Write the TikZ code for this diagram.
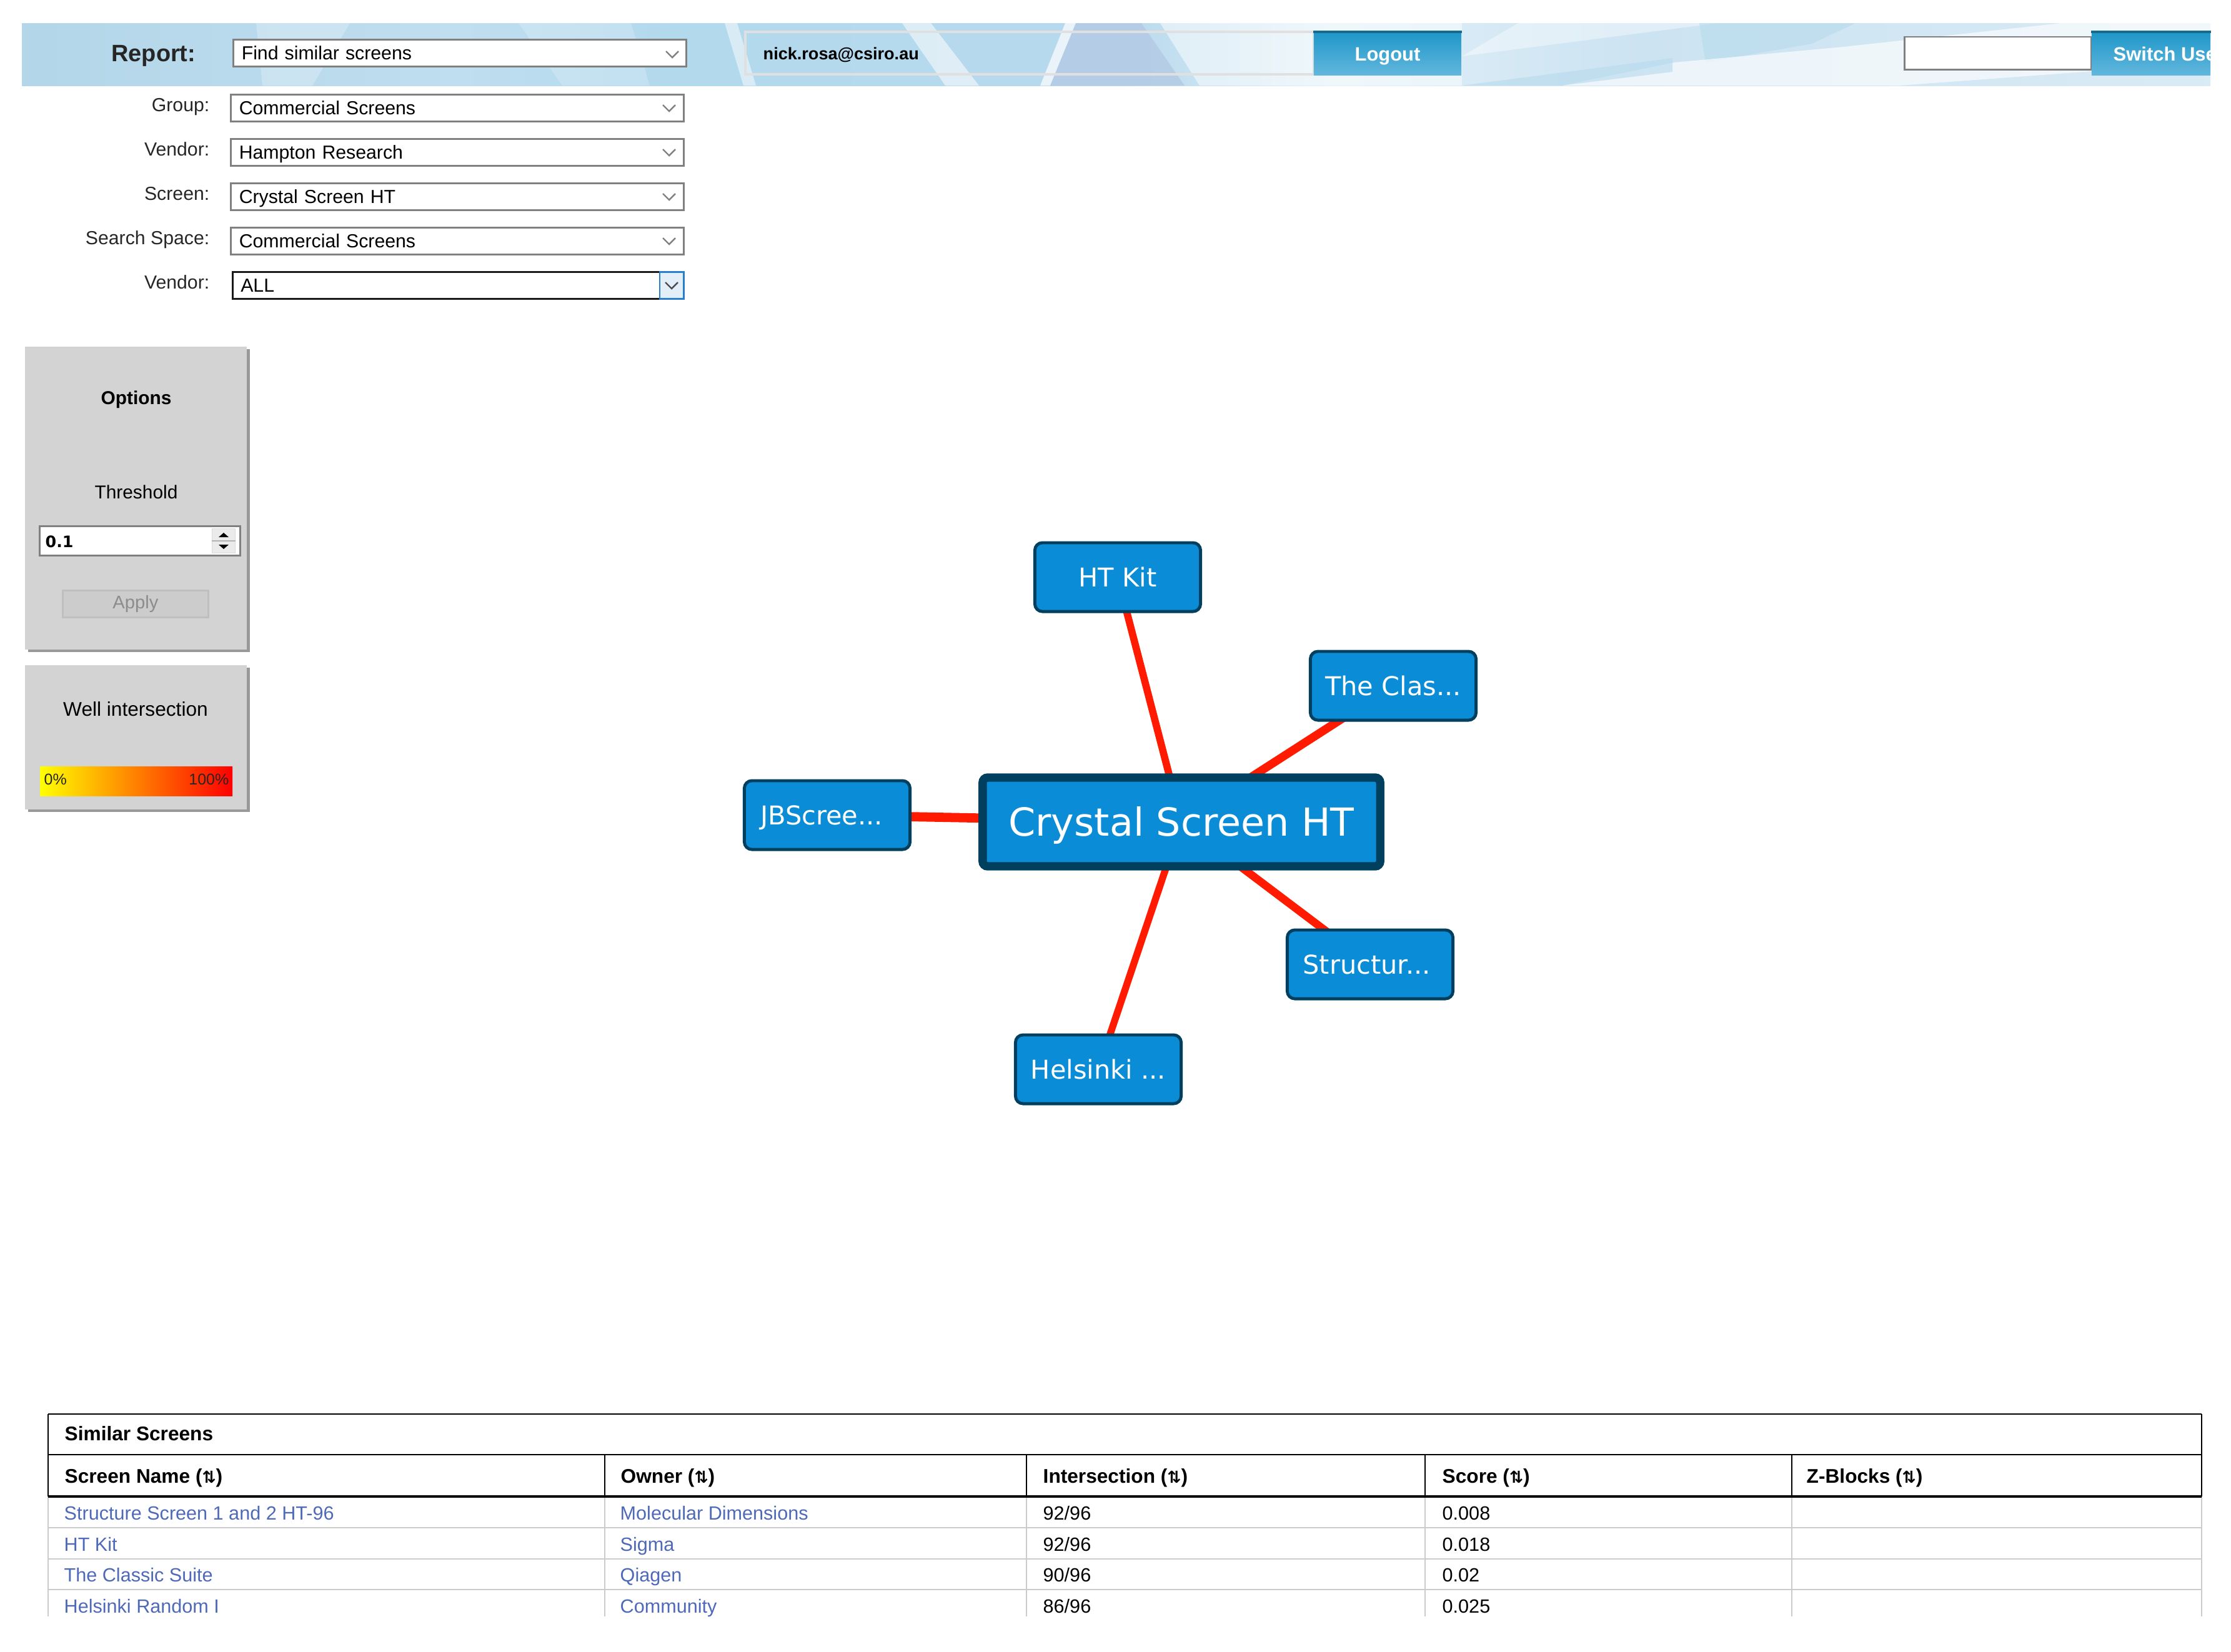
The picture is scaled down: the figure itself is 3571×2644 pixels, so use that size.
\documentclass[tikz,border=0pt]{standalone}
\usepackage{fontspec}
\setmainfont{Liberation Sans}
\newfontfamily\boxfont{DejaVu Sans}
\usetikzlibrary{positioning, backgrounds}

\definecolor{box_blue}{HTML}{0A8DD6}
\definecolor{box_dark}{HTML}{003F5E}
\definecolor{edge_red}{HTML}{FF1A00}
\definecolor{panel_gray}{HTML}{D3D3D3}
\definecolor{link_blue}{HTML}{4F69B9}
\definecolor{row_gray}{HTML}{CBCBCB}
\definecolor{blue_top}{HTML}{1F97C9}
\definecolor{blue_bottom}{HTML}{62B7DD}
\definecolor{facet_violet}{HTML}{B4C9E4}
\definecolor{facet_blue}{HTML}{B6DAEC}
\definecolor{arrow_fill}{HTML}{E2EEF8}
\definecolor{arrow_line}{HTML}{2A7FCB}

\pgfdeclarehorizontalshading{banner_shade}{100bp}{
    rgb(0bp)=(0.70,0.84,0.91);
    rgb(25bp)=(0.70,0.84,0.91);
    rgb(35bp)=(0.75,0.87,0.94);
    rgb(40bp)=(0.70,0.85,0.93);
    rgb(50bp)=(0.72,0.85,0.93);
    rgb(55bp)=(0.88,0.94,0.97);
    rgb(62bp)=(0.80,0.89,0.95);
    rgb(75bp)=(0.85,0.92,0.96);
    rgb(100bp)=(0.85,0.92,0.96)
}

\newcommand{\sortmark}{{\boxfont\fontsize{7.5}{8}\selectfont ⇅}}

\tikzstyle{select_box} = [
    draw=gray,
    fill=white,
    line width=0.85pt,
    minimum height=0.43cm,
    inner xsep=0.13cm,
    inner ysep=0pt,
    text width=6.98cm,
    align=left,
    text height=0.25cm,
    text depth=0.04cm,
    font=\fontsize{8.6}{10}\selectfont
]
\tikzstyle{form_label} = [
    anchor=east,
    inner sep=0pt,
    text=black!85,
    text height=0.25cm,
    text depth=0.04cm,
    font=\fontsize{8.6}{10}\selectfont
]
\tikzstyle{top_button} = [
    rectangle,
    minimum height=0.69cm,
    inner sep=0pt,
    top color=blue_top,
    bottom color=blue_bottom,
    text=white,
    text height=0.25cm,
    text depth=0.03cm,
    font=\bfseries\fontsize{8.8}{10}\selectfont
]
\tikzstyle{panel} = [
    rectangle,
    fill=panel_gray,
    inner sep=0pt,
    minimum width=3.55cm
]
\tikzstyle{panel_text} = [
    inner sep=0pt,
    font=\fontsize{8.5}{10}\selectfont
]
\tikzstyle{screen_node} = [
    rectangle,
    rounded corners=0.12cm,
    draw=box_dark,
    fill=box_blue,
    line width=1.4pt,
    text=white,
    minimum width=2.65cm,
    minimum height=1.1cm,
    inner sep=0pt,
    text height=0.3cm,
    text depth=0cm,
    font=\boxfont\fontsize{11.8}{13}\selectfont
]
\tikzstyle{main_node} = [
    rectangle,
    rounded corners=0.08cm,
    draw=box_dark,
    fill=box_blue,
    line width=3.8pt,
    text=white,
    minimum width=6.36cm,
    minimum height=1.42cm,
    inner sep=0pt,
    text height=0.44cm,
    text depth=0cm,
    font=\boxfont\fontsize{17.6}{20}\selectfont
]
\tikzstyle{cell} = [
    anchor=west,
    inner sep=0pt,
    text height=0.25cm,
    text depth=0.04cm,
    font=\fontsize{8.7}{10}\selectfont
]
\tikzstyle{head_cell} = [
    cell,
    font=\bfseries\fontsize{9}{10}\selectfont
]
\tikzstyle{link_cell} = [
    cell,
    text=link_blue
]

\begin{document}
\begin{tikzpicture}[x=0.01cm, y=-0.01cm]
\useasboundingbox (0,0) rectangle (3571,2644);

% banner
\shade[shading=banner_shade] (35,37) rectangle (3538,137);
\fill[white, opacity=0.25] (410,37) -- (560,37) -- (500,137) -- (420,137) -- cycle;
\fill[white, opacity=0.2] (830,37) -- (1010,37) -- (1040,137) -- (900,137) -- cycle;
\fill[white, opacity=0.55] (1444,37) -- (1490,37) -- (1567,137) -- (1513,137) -- cycle;
\fill[white, opacity=0.5] (1160,37) -- (1180,37) -- (1210,137) -- (1190,137) -- cycle;
\fill[white, opacity=0.5] (1857,37) -- (2340,37) -- (2340,137) -- (1920,137) -- cycle;
\fill[white, opacity=0.7] (1705,37) -- (1722,37) -- (1681,137) -- (1665,137) -- cycle;
\fill[facet_violet, opacity=0.8] (1722,37) -- (1827,37) -- (1896,137) -- (1681,137) -- cycle;
\fill[white, opacity=0.4] (2340,90) -- (2750,37) -- (2430,37) -- cycle;
\fill[facet_blue, opacity=0.6] (2720,37) -- (2970,37) -- (2900,70) -- (2730,100) -- cycle;
\fill[white, opacity=0.65] (2500,137) -- (2680,100) -- (2950,75) -- (3300,37) -- (3538,37) -- (3538,100) -- (3040,137) -- cycle;
\fill[facet_blue, opacity=0.6] (2340,137) -- (2677,93) -- (2677,115) -- (2500,137) -- cycle;

% top bar
\node [form_label, font=\bfseries\fontsize{10.8}{12}\selectfont] (report_label) at (314,88) {Report:};
\node [select_box] (sel_report) at (736,85) {Find similar screens};
\node [rectangle, draw=black!12, line width=1.1pt, minimum width=9.1cm, minimum height=0.68cm, inner sep=0pt] (mail_box) at (1648,85) {};
\node [inner sep=0pt, anchor=west, font=\bfseries\fontsize{7.7}{9}\selectfont] (mail_text) at (1221,88) {nick.rosa@csiro.au};
\node [top_button, minimum width=2.36cm] (logout) at (2221,86) {Logout};
\draw [blue_top!70!black, line width=1pt] (logout.north west) -- (logout.north east);
\node [rectangle, draw=gray, fill=white, line width=0.85pt, minimum width=2.99cm, minimum height=0.52cm, inner sep=0pt] (user_box) at (3198,85) {};
\node [top_button, minimum width=1.9cm] (switch_user) at (3443,86) {};
\draw [blue_top!70!black, line width=1pt] (switch_user.north west) -- (switch_user.north east);
\begin{scope}
    \clip (switch_user.south west) rectangle (switch_user.north east);
    \node [inner sep=0pt, anchor=west, white, font=\bfseries\fontsize{8.8}{10}\selectfont] (switch_text) at (3382,86) {Switch Use};
\end{scope}

% form
\node [form_label] (group_label) at (336,168) {Group:};
\node [form_label] (vendor_label) at (336,239) {Vendor:};
\node [form_label] (screen_label) at (336,310) {Screen:};
\node [form_label] (space_label) at (336,381) {Search Space:};
\node [form_label] (all_label) at (336,452) {Vendor:};
\node [select_box] (sel_group) at (732,173) {Commercial Screens};
\node [select_box] (sel_vendor) at (732,244) {Hampton Research};
\node [select_box] (sel_screen) at (732,315) {Crystal Screen HT};
\node [select_box] (sel_space) at (732,386) {Commercial Screens};
\node [select_box, draw=black!90, text width=6.95cm] (sel_all) at (733,457) {ALL};
\node [rectangle, draw=arrow_line, fill=arrow_fill, line width=0.85pt, minimum width=0.38cm, minimum height=0.43cm, inner sep=0pt] (all_arrow) at (1075,457) {};
\draw [gray, line width=0.7pt] (1066,82) -- (1076,92) -- (1086,82);
\foreach \y in {173,244,315,386}
    \draw [gray, line width=0.7pt] (1061,\y-5) -- (1071,\y+5) -- (1081,\y-5);
\draw [black!70, line width=0.7pt] (1065,452) -- (1075,462) -- (1085,452);

% options panel
\fill [black!40] (45,559) rectangle (400,1044);
\node [panel, minimum height=4.85cm] (options_panel) at (217.5,797.5) {};
\node [panel_text, font=\bfseries\fontsize{8.5}{10}\selectfont] (options_title) at (218,640) {Options};
\node [panel_text] (threshold_label) at (218,788) {Threshold};
\node [rectangle, draw=gray, fill=white, line width=0.85pt, minimum width=3.21cm, minimum height=0.47cm, inner sep=0pt] (threshold_box) at (224,866) {};
\node [inner sep=0pt, anchor=west, font=\boxfont\bfseries\fontsize{7.2}{9}\selectfont] (threshold_value) at (72,867) {0.1};
\node [rectangle, draw=black!15, fill=black!8, minimum width=0.37cm, minimum height=0.39cm, inner sep=0pt] (spin_box) at (358,866) {};
\draw [black!30] (spin_box.west) -- (spin_box.east);
\fill [black] (350,860) -- (358,853) -- (366,860) -- cycle;
\fill [black] (350,872) -- (358,879) -- (366,872) -- cycle;
\node [rectangle, draw=black!25, fill=black!20, line width=0.7pt, minimum width=2.33cm, minimum height=0.43cm, inner sep=0pt, text=black!45, font=\fontsize{8.3}{10}\selectfont] (apply_button) at (217,967) {Apply};

% well intersection panel
\fill [black!40] (45,1069) rectangle (400,1300);
\node [panel, minimum height=2.31cm] (well_panel) at (217.5,1180.5) {};
\node [panel_text, font=\fontsize{9}{10}\selectfont] (well_title) at (217,1135) {Well intersection};
\shade [left color=yellow, right color=red, middle color=orange] (64,1227) rectangle (372,1274);
\node [inner sep=0pt, anchor=west, text=black!85, font=\fontsize{7.1}{9}\selectfont] (low_mark) at (70,1248) {0\%};
\node [inner sep=0pt, anchor=east, text=black!85, font=\fontsize{7.1}{9}\selectfont] (high_mark) at (367,1248) {100\%};

% graph
\node [main_node] (crystal) at (1891,1316) {Crystal Screen HT};
\node [screen_node] (htkit) at (1789,924) {HT Kit};
\node [screen_node] (classic) at (2230,1098) {The Clas...};
\node [screen_node] (jbscreen) at (1324,1305) {JBScree...\kern0.18cm};
\node [screen_node] (structure) at (2193,1544) {Structur...\kern0.11cm};
\node [screen_node] (helsinki) at (1758,1712) {Helsinki ...};
\begin{scope}[on background layer]
    \draw [edge_red, line width=3.3pt] (crystal.center) -- (htkit.center);
    \draw [edge_red, line width=3.8pt] (crystal.center) -- (classic.center);
    \draw [edge_red, line width=4.2pt] (crystal.center) -- (jbscreen.center);
    \draw [edge_red, line width=3.6pt] (crystal.center) -- (structure.center);
    \draw [edge_red, line width=3.2pt] (crystal.center) -- (helsinki.center);
\end{scope}

% table
\foreach \x in {77,968,1643,2281,2868,3524}
    \draw [row_gray, line width=0.5pt] (\x,2396) -- (\x,2588);
\foreach \y in {2446,2496,2545}
    \draw [row_gray, line width=0.8pt] (77,\y) -- (3524,\y);
\draw [black, line width=0.5pt] (77,2264) -- (77,2396);
\draw [black, line width=0.5pt] (3524,2264) -- (3524,2396);
\foreach \x in {968,1643,2281,2868}
    \draw [black, line width=0.5pt] (\x,2329) -- (\x,2396);
\draw [black, line width=0.8pt] (77,2264) -- (3524,2264);
\draw [black, line width=0.8pt] (77,2329) -- (3524,2329);
\draw [black, line width=1pt] (77,2396) -- (3524,2396);

\node [head_cell] (table_title) at (103,2296) {Similar Screens};
\node [head_cell] (head_name) at (103,2364) {Screen Name (\sortmark)};
\node [head_cell] (head_owner) at (993,2364) {Owner (\sortmark)};
\node [head_cell] (head_inter) at (1669,2364) {Intersection (\sortmark)};
\node [head_cell] (head_score) at (2308,2364) {Score (\sortmark)};
\node [head_cell] (head_blocks) at (2891,2364) {Z-Blocks (\sortmark)};

\foreach \row/\y/\name/\owner/\inter/\score in {
    a/2423/Structure Screen 1 and 2 HT-96/Molecular Dimensions/92\slash 96/0.008,
    b/2473/HT Kit/Sigma/92\slash 96/0.018,
    c/2522/The Classic Suite/Qiagen/90\slash 96/0.02,
    d/2572/Helsinki Random I/Community/86\slash 96/0.025
}{
    \node [link_cell] (name_\row) at (102,\y) {\name};
    \node [link_cell] (owner_\row) at (992,\y) {\owner};
    \node [cell] (inter_\row) at (1669,\y) {\inter};
    \node [cell] (score_\row) at (2308,\y) {\score};
}
\end{tikzpicture}
\end{document}
